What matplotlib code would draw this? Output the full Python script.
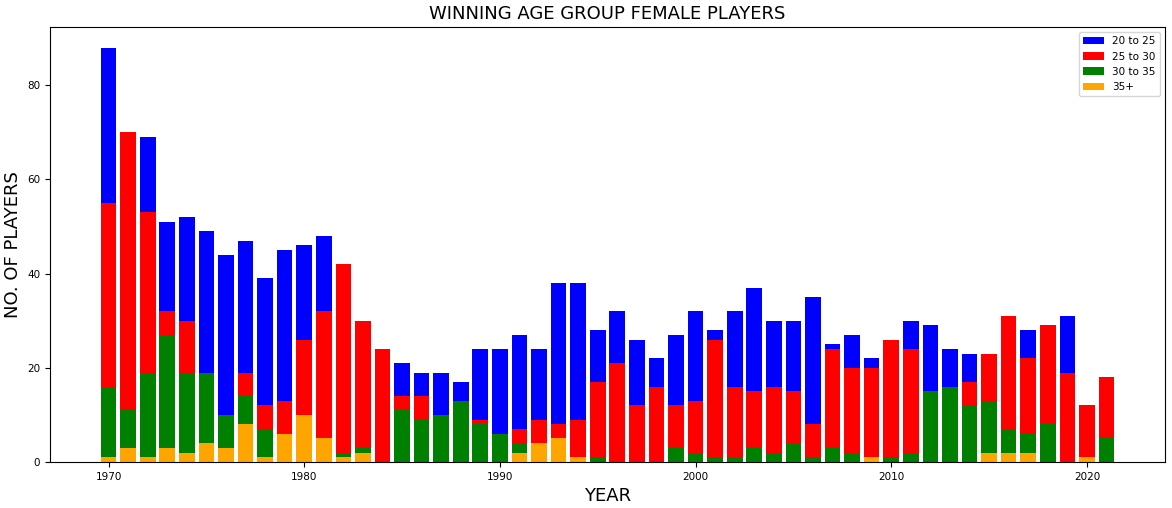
import numpy as np
import matplotlib.pyplot as plt

years = np.arange(1970, 2022)

# bars are overlaid from zero, drawn in this order
age_20_25 = [88, 60, 69, 51, 52, 49, 44, 47, 39, 45, 46, 48, 20, 10, 0, 21, 19, 19, 17, 24,
             24, 27, 24, 38, 38, 28, 32, 26, 22, 27, 32, 28, 32, 37, 30, 30, 35, 25, 27, 22,
             15, 30, 29, 24, 23, 12, 15, 28, 10, 31, 5, 0]
age_25_30 = [55, 70, 53, 32, 30, 12, 6, 19, 12, 13, 26, 32, 42, 30, 24, 14, 14, 5, 8, 9,
             3, 7, 9, 8, 9, 17, 21, 12, 16, 12, 13, 26, 16, 15, 16, 15, 8, 24, 20, 20,
             26, 24, 10, 8, 17, 23, 31, 22, 29, 19, 12, 18]
age_30_35 = [16, 11, 19, 27, 19, 19, 10, 14, 7, 4, 6, 3, 2, 3, 0, 11, 9, 10, 13, 8,
             6, 4, 2, 3, 0, 1, 0, 0, 0, 3, 2, 1, 1, 3, 2, 4, 1, 3, 2, 0,
             1, 2, 15, 16, 12, 13, 7, 6, 8, 0, 0, 5]
age_35_plus = [1, 3, 1, 3, 2, 4, 3, 8, 1, 6, 10, 5, 1, 2, 0, 0, 0, 0, 0, 0,
               0, 2, 4, 5, 1, 0, 0, 0, 0, 0, 0, 0, 0, 0, 0, 0, 0, 0, 0, 1,
               0, 0, 0, 0, 0, 2, 2, 2, 0, 0, 1, 0]

fig = plt.figure(figsize=(11.72, 5.08), dpi=100)
ax = fig.add_axes([0.0427, 0.0906, 0.9513, 0.8564])

ax.bar(years, age_20_25, color='blue', label='20 to 25')
ax.bar(years, age_25_30, color='red', label='25 to 30')
ax.bar(years, age_30_35, color='green', label='30 to 35')
ax.bar(years, age_35_plus, color='orange', label='35+')

ax.set_title('WINNING AGE GROUP FEMALE PLAYERS', fontsize=13)
ax.set_xlabel('YEAR', fontsize=13)
ax.set_ylabel('NO. OF PLAYERS', fontsize=13)
ax.tick_params(labelsize=7.5)
ax.legend(fontsize=7.5, loc='upper right')

fig.savefig('out.png', dpi=100)
